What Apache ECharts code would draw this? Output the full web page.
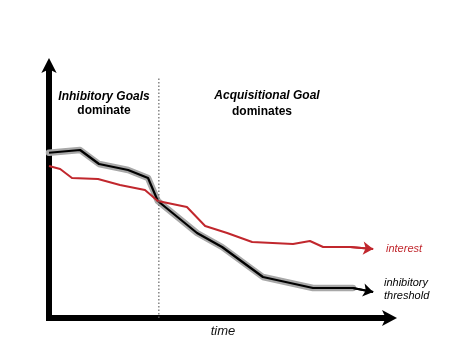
<!DOCTYPE html>
<html>
<head>
<meta charset="utf-8">
<script src="https://cdn.jsdelivr.net/npm/echarts@6/dist/echarts.min.js"></script>
<style>html,body{margin:0;padding:0;background:#fff;}#c{width:474px;height:362px;}</style>
</head>
<body>
<div id="c"></div>
<script>
// time positions and levels (arbitrary units, 0-100)
var thresholdTime  = [0, 9.2, 14.8, 23.4, 29.3, 32.2, 43.8, 51.2, 63.3, 78.1, 89.9, 95.9];
var thresholdLevel = [66.1, 67.2, 61.6, 59.2, 56, 46.8, 34, 28.4, 16.4, 12, 12, 10.4];
var interestTime   = [0, 3.3, 6.8, 14.5, 21, 28.4, 32.2, 40.8, 46.2, 52.7, 60.1, 72.2, 77.2, 81.1, 89.1, 95.9];
var interestLevel  = [60.8, 59.6, 56, 55.6, 53.2, 51.2, 46.8, 44.4, 36.8, 34, 30.4, 29.6, 30.8, 28.4, 28.4, 27.6];
var switchTime = 32.5;
var switchTop = 96.4;

function pairs(xs, ys){ return xs.map(function(x,i){ return [x, ys[i]]; }); }
var FONT = "'Liberation Sans', Arial, sans-serif";
var thr = pairs(thresholdTime, thresholdLevel);
var intr = pairs(interestTime, interestLevel);

var chart = echarts.init(document.getElementById('c'), null, {renderer:'canvas'});
chart.setOption({
  animation:false,
  backgroundColor:'#ffffff',
  grid:{left:49, right:87, top:68, bottom:44},
  xAxis:{type:'value', min:0, max:100,
    axisLine:{show:true, symbol:['none','arrow'], symbolSize:[12,15], symbolOffset:[0,10],
      lineStyle:{color:'#000', width:6, cap:'square'}},
    axisTick:{show:false}, axisLabel:{show:false}, splitLine:{show:false}},
  yAxis:{type:'value', min:0, max:100,
    axisLine:{show:true, symbol:['none','arrow'], symbolSize:[11.5,15], symbolOffset:[0,10],
      lineStyle:{color:'#000', width:6, cap:'square'}},
    axisTick:{show:false}, axisLabel:{show:false}, splitLine:{show:false}},
  series:[
    {type:'line', data:[[switchTime,0],[switchTime,switchTop]], showSymbol:false, silent:true,
      lineStyle:{color:'#666', width:1.2, type:[1.5,2]}},
    {type:'lines', coordinateSystem:'cartesian2d', polyline:true, silent:true,
      data:[{coords: thr.slice(0, -1)}],
      lineStyle:{color:'#a8a8a8', width:6.5, opacity:1, cap:'round', join:'round'}},
    {type:'lines', coordinateSystem:'cartesian2d', polyline:true, silent:true,
      data:[{coords: thr}],
      lineStyle:{color:'#000', width:2.2, opacity:1, join:'round'}},
    {type:'lines', coordinateSystem:'cartesian2d', silent:true,
      symbol:['none','arrow'], symbolSize:[8,10],
      data:[{coords: thr.slice(-2)}],
      lineStyle:{color:'#000', width:2.2, opacity:1}},
    {type:'lines', coordinateSystem:'cartesian2d', polyline:true, silent:true,
      data:[{coords: intr}],
      lineStyle:{color:'#c1272d', width:2, opacity:1, join:'round'}},
    {type:'lines', coordinateSystem:'cartesian2d', silent:true,
      symbol:['none','arrow'], symbolSize:[8,10],
      data:[{coords: intr.slice(-2)}],
      lineStyle:{color:'#c1272d', width:2, opacity:1}}
  ],
  graphic:[
    {type:'text', x:104, y:97, style:{text:'Inhibitory Goals', font:'italic bold 12px '+FONT, fill:'#000', textAlign:'center', textVerticalAlign:'middle'}},
    {type:'text', x:104, y:111, style:{text:'dominate', font:'bold 12px '+FONT, fill:'#000', textAlign:'center', textVerticalAlign:'middle'}},
    {type:'text', x:267, y:96, style:{text:'Acquisitional Goal', font:'italic bold 12px '+FONT, fill:'#000', textAlign:'center', textVerticalAlign:'middle'}},
    {type:'text', x:262, y:112, style:{text:'dominates', font:'bold 12px '+FONT, fill:'#000', textAlign:'center', textVerticalAlign:'middle'}},
    {type:'text', x:223, y:331, style:{text:'time', font:'italic 13px '+FONT, fill:'#111', textAlign:'center', textVerticalAlign:'middle'}},
    {type:'text', x:386, y:249, style:{text:'interest', font:'italic 11px '+FONT, fill:'#c1272d', textAlign:'left', textVerticalAlign:'middle'}},
    {type:'text', x:384, y:283, style:{text:'inhibitory', font:'italic 11px '+FONT, fill:'#000', textAlign:'left', textVerticalAlign:'middle'}},
    {type:'text', x:384, y:296, style:{text:'threshold', font:'italic 11px '+FONT, fill:'#000', textAlign:'left', textVerticalAlign:'middle'}}
  ]
});
</script>
</body>
</html>
